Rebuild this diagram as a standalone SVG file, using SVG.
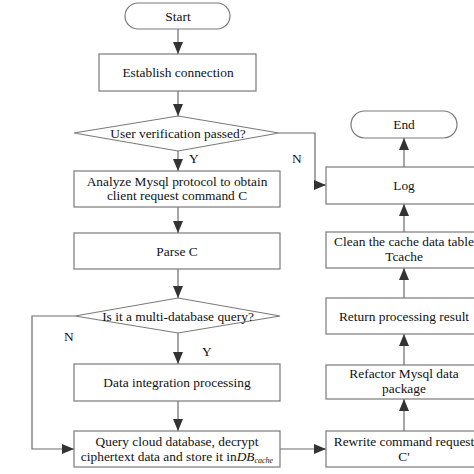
<svg xmlns="http://www.w3.org/2000/svg" width="474" height="474" viewBox="0 0 474 474">
<style>
.b{fill:#fff;stroke:#7a7a7a;stroke-width:1.2}
.t{font-family:"Liberation Serif","Times New Roman",serif;font-size:13.4px;fill:#111;text-anchor:middle}
.l{font-family:"Liberation Serif","Times New Roman",serif;font-size:13.4px;fill:#111}
.c{fill:none;stroke:#6a6a6a;stroke-width:1.2}
</style>
<defs>
<marker id="a" viewBox="0 0 12 10" refX="12" refY="5" markerWidth="12" markerHeight="10" markerUnits="userSpaceOnUse" orient="auto">
<path d="M0,0 L12,5 L0,10 Z" fill="#333"/>
</marker>
</defs>
<rect width="474" height="474" fill="#fff"/>
<g id="connectors">
<path class="c" d="M178,29 V54" marker-end="url(#a)"/>
<path class="c" d="M178,91 V116" marker-end="url(#a)"/>
<path class="c" d="M178,151 V171" marker-end="url(#a)"/>
<path class="c" d="M279,133 H315 V185 H326" marker-end="url(#a)"/>
<path class="c" d="M178,207 V233" marker-end="url(#a)"/>
<path class="c" d="M178,269 V298" marker-end="url(#a)"/>
<path class="c" d="M178,333 V364" marker-end="url(#a)"/>
<path class="c" d="M75,316 H32 V449 H74" marker-end="url(#a)"/>
<path class="c" d="M178,401 V431" marker-end="url(#a)"/>
<path class="c" d="M280,449 H326" marker-end="url(#a)"/>
<path class="c" d="M404,431 V399" marker-end="url(#a)"/>
<path class="c" d="M404,365 V334" marker-end="url(#a)"/>
<path class="c" d="M404,298 V268" marker-end="url(#a)"/>
<path class="c" d="M404,232 V204" marker-end="url(#a)"/>
<path class="c" d="M404,167 V138" marker-end="url(#a)"/>
<text class="l" x="189" y="163">Y</text>
<text class="l" x="292" y="163">N</text>
<text class="l" x="64" y="341">N</text>
<text class="l" x="202" y="356">Y</text>
</g>
<g id="start"><rect class="b" x="125" y="3" width="105" height="26" rx="13"/><text class="t" x="178" y="20.5">Start</text></g>
<g id="establish"><rect class="b" x="99" y="54" width="157" height="37"/><text class="t" x="178" y="77">Establish connection</text></g>
<g id="verify"><polygon class="b" points="74,133 178,116 279,133 178,151"/><text class="t" x="178" y="137.5">User verification passed?</text></g>
<g id="analyze"><rect class="b" x="74" y="171" width="206" height="36"/><text class="t" x="177" y="186">Analyze Mysql protocol to obtain</text><text class="t" x="177" y="200">client request command C</text></g>
<g id="parse"><rect class="b" x="74" y="233" width="206" height="36"/><text class="t" x="177" y="255.5">Parse C</text></g>
<g id="multi"><polygon class="b" points="75,316 178,298 280,316 178,333"/><text class="t" x="178" y="320.5">Is it a multi-database query?</text></g>
<g id="integrate"><rect class="b" x="74" y="364" width="206" height="37"/><text class="t" x="177" y="387">Data integration processing</text></g>
<g id="query"><rect class="b" x="74" y="431" width="206" height="36"/><text class="t" x="177" y="446">Query cloud database, decrypt</text><text class="t" x="177" y="461">ciphertext data and store it in<tspan font-style="italic">DB</tspan><tspan font-style="italic" font-size="8" dy="2">cache</tspan></text></g>
<g id="end"><rect class="b" x="351" y="111" width="106" height="27" rx="13.5"/><text class="t" x="404" y="129">End</text></g>
<g id="log"><rect class="b" x="326" y="167" width="158" height="37"/><text class="t" x="404" y="190">Log</text></g>
<g id="clean"><rect class="b" x="326" y="232" width="158" height="36"/><text class="t" x="404" y="246">Clean the cache data table</text><text class="t" x="404" y="261">Tcache</text></g>
<g id="return"><rect class="b" x="326" y="298" width="158" height="36"/><text class="t" x="404" y="320.5">Return processing result</text></g>
<g id="refactor"><rect class="b" x="326" y="365" width="158" height="34"/><text class="t" x="404" y="378">Refactor Mysql data</text><text class="t" x="404" y="393">package</text></g>
<g id="rewrite"><rect class="b" x="326" y="431" width="158" height="36"/><text class="t" x="404" y="446">Rewrite command request</text><text class="t" x="404" y="461">C'</text></g>
</svg>
